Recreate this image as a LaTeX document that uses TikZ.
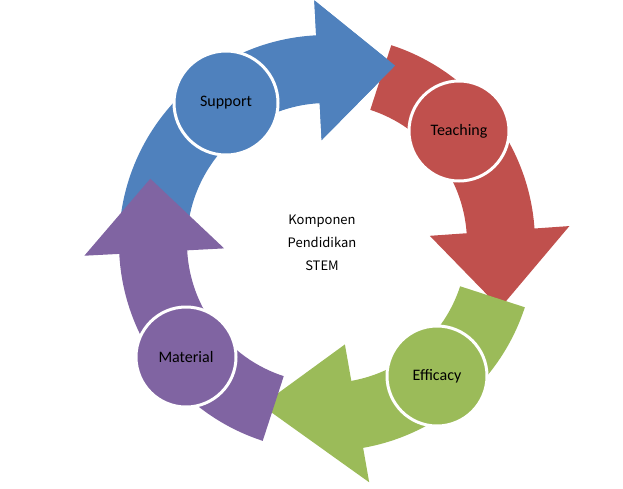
\documentclass[tikz,border=0pt]{standalone}
\usepackage{fontspec}
\setmainfont{Carlito}
\newfontfamily\monofont{Noto Sans CJK JP}
\definecolor{cblue}{HTML}{4F81BD}
\definecolor{cred}{HTML}{C0504D}
\definecolor{cgreen}{HTML}{9BBB59}
\definecolor{cpurple}{HTML}{8064A2}
% ring arrow: colour, start angle, base angle, tip angle, tip radius
\newcommand\ringarrow[5]{%
  \fill[#1] (#2:208) arc[start angle=#2,end angle=#3,radius=208] -- (#3:243)
    -- (#4:#5) -- (#3:103) -- (#3:140) arc[start angle=#3,end angle=#2,radius=140] -- cycle;}
\tikzset{stage/.style={draw=white,line width=3pt,circle,minimum size=100pt,inner sep=0pt,font=\fontsize{16}{18}\selectfont}}
\begin{document}
\begin{tikzpicture}[x=1pt,y=-1pt]
  \useasboundingbox (0,0) rectangle (623,488);

  % ring of arrows
  \begin{scope}[shift={(327,243)}]
    \ringarrow{cblue}{-180}{-93}{-69}{190}
    \ringarrow{cred}{-72}{-4}{20.6}{185}
    \ringarrow{cgreen}{18}{80}{112}{175}
    \ringarrow{cpurple}{108}{177}{200}{188}
    \fill[cblue] (-93:243) -- (-69:190) -- (-93:103) -- cycle;
  \end{scope}

  % stages
  \node[stage,fill=cblue,minimum size=104pt] (support) at (226,103) {Support};
  \node[stage,fill=cred] (teaching) at (459,131) {Teaching};
  \node[stage,fill=cgreen] (efficacy) at (437,376) {Efficacy};
  \node[stage,fill=cpurple] (material) at (186,357) {Material};

  \node[align=center,font=\monofont\fontsize{13}{23}\selectfont] (center) at (322,243) {Komponen\\Pendidikan\\STEM};
\end{tikzpicture}
\end{document}
